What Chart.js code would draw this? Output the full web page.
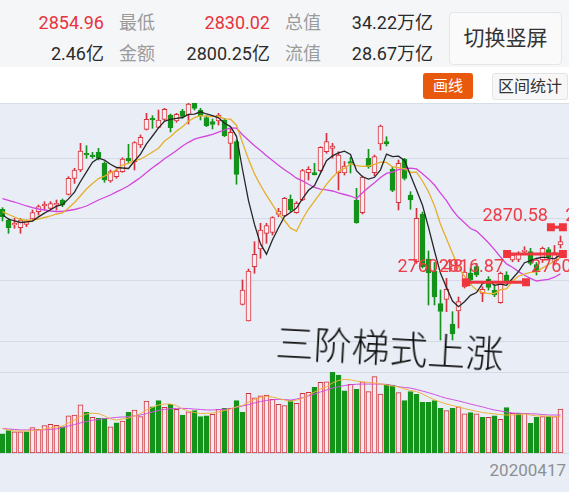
<!DOCTYPE html>
<html>
<head>
<meta charset="utf-8">
<script src="https://cdn.jsdelivr.net/npm/chart.js@4.4.0/dist/chart.umd.min.js"></script>
<style>
  body { margin: 0; width: 587px; height: 503px; background: #fff; position: relative; overflow: hidden;
         font-family: Roboto, "Noto Sans CJK SC", sans-serif; }
  .abs { position: absolute; white-space: nowrap; }
  #strip { left: 0; top: 0; width: 569px; height: 67px; background: #f5f6f8; }
  .row1 { top: 12px; font-size: 18px; line-height: 21px; }
  .row2 { top: 43px; font-size: 18px; line-height: 21px; }
  .red { color: #e8333c; }
  .blk { color: #2b2b2b; }
  .gry { color: #9b9b9b; }
  #switch { left: 449px; top: 12px; width: 111px; height: 51px; border: 1px solid #e6e6e6; border-radius: 4px;
            background: #fafafa; color: #333; font-size: 21px; line-height: 51px; text-align: center; }
  #draw { left: 423px; top: 73px; width: 50px; height: 26px; background: #e8590e; border-radius: 3px;
          color: #fff; font-size: 15px; line-height: 26px; text-align: center; }
  #range { left: 492px; top: 73px; width: 74px; height: 25px; background: #f7f7f7; border: 1px solid #e4e4e4;
           border-radius: 3px; color: #333; font-size: 16px; line-height: 25px; text-align: center; }
  #plotbg { left: 0; top: 103px; width: 569px; height: 389px; background: #e9eef6; border-top: 1px solid #d9dfe7; box-sizing: border-box; }
  .hline { left: 0; width: 569px; height: 1px; background: #d4dbe6; }
  #kline { left: 0; top: 103px; }
  #vol { left: 0; top: 372px; }
  #date { right: 21px; top: 460px; font-size: 17px; line-height: 20px; color: #8e8e93; }
  #note { left: 276px; top: 318px; font-size: 38px; line-height: 44px; color: #111; font-weight: 300;
          font-family: "Noto Sans CJK SC", sans-serif; transform: rotate(3deg); transform-origin: left center; }
</style>
</head>
<body>
<div id="strip" class="abs"></div>
<span class="abs row1 red" style="right:483px">2854.96</span>
<span class="abs row1 gry" style="left:119px">最低</span>
<span class="abs row1 red" style="right:317px">2830.02</span>
<span class="abs row1 gry" style="left:285px">总值</span>
<span class="abs row1 blk" style="right:154px">34.22万亿</span>
<span class="abs row2 blk" style="right:483px">2.46亿</span>
<span class="abs row2 gry" style="left:119px">金额</span>
<span class="abs row2 blk" style="right:317px">2800.25亿</span>
<span class="abs row2 gry" style="left:285px">流值</span>
<span class="abs row2 blk" style="right:154px">28.67万亿</span>
<div id="switch" class="abs">切换竖屏</div>
<div id="draw" class="abs">画线</div>
<div id="range" class="abs">区间统计</div>
<div id="plotbg" class="abs"></div>
<div class="abs hline" style="top:372px"></div>
<div class="abs hline" style="top:453px"></div>
<canvas id="kline" class="abs" width="569" height="269"></canvas>
<canvas id="vol" class="abs" width="569" height="81"></canvas>
<div id="date" class="abs">20200417</div>
<div id="note" class="abs">三阶梯式上涨</div>
<script>
// daily candles, oldest first (SSE composite)
var openP = [2906.4,2885,2875,2869.6,2876.4,2887,2901.6,2913.6,2908.4,2915,
  2925,2936.4,2968.4,2985,3018.4,3015,3020.4,2998.4,2963,2971.6,
  2981.6,3008.4,3001.6,3035,3066.4,3088.4,3070.4,3086.4,3095,3083,
  3103,3095,3125,3105,3089.6,3081.6,3083,3085,3038.4,3041.6,
  2716.4,2683,2791.6,2827,2858.4,2860.4,2896.4,2893,2926.4,2899.6,
  2925,2979.6,2979.6,2983.6,3021.6,3028.4,2979.6,2979,3001.6,2925,
  2899.6,3008.4,2979.6,3037,3041.6,2986.4,2919.6,3006.4,2935,2801.6,
  2897,2807,2783,2718,2726.4,2677,2703,2751,2779,2791.6,
  2738.4,2766.4,2745,2719.6,2775,2805,2806.4,2821.6,2821.6,2796,
  2805,2826,2800,2835];
var highP = [2909.6,2888.4,2888.4,2888.4,2885,2905,2915,2921.6,2921.6,2925,
  2927,2971.6,2988.4,3038.4,3033.6,3020.4,3028.4,3001.6,2985,2987,
  3009.6,3036.4,3041.6,3055,3098.4,3093.6,3105,3108.4,3097,3098.4,
  3106.4,3118.4,3128.4,3108.4,3093.6,3087,3098.4,3088.4,3068.4,3045,
  2765,2787,2841.6,2878.4,2878.4,2891.6,2908.4,2930.4,2935,2921.6,
  2986.4,2991.6,2998.4,3031.6,3058.4,3038.4,3021.6,3002,3010.4,2948.4,
  2973,3026.4,3015,3075,3051.6,2991,3005,3008.4,2941.6,2908.4,
  2901,2823,2800,2745,2768.4,2701.6,2731,2785,2789,2798.4,
  2751.6,2771.6,2755,2781,2781.6,2818.4,2821.6,2831.6,2828.4,2800,
  2831,2830,2834,2853];
var lowP = [2883,2858.4,2868.4,2858.4,2871.6,2883,2895,2905,2905,2905,
  2911.6,2935,2958.4,2981.6,3008.4,3008.4,3005,2960.4,2960.4,2968.4,
  2980.4,3000,2985,3030,3065,3068.4,3069,3082.4,3061,3080.4,
  3088.4,3077,3105,3085,3071.6,3067,3075,3051.6,3007,2956.4,
  2715,2683,2778.4,2808.4,2838.4,2855,2891.6,2891.6,2901.6,2898.4,
  2923.6,2965,2975,2981,3018.4,3008.4,2945,2975,2979,2878.4,
  2897,2988.4,2973,3025,3033,2941.6,2905,2965,2906.4,2798.4,
  2789,2715,2715,2645,2701.6,2645,2669,2749,2755,2771.6,
  2721.6,2745,2731.6,2718.4,2758.4,2801.6,2801.6,2818.4,2795,2775,
  2800,2806,2798,2829];
var closeP = [2891.6,2869.6,2878.4,2885,2881.6,2899.6,2911.6,2916.4,2917.6,2918.4,
  2915,2968.4,2985,3023,3015,3011.6,3008.4,2965,2981.6,2983,
  3007,3003.6,3039.6,3050.4,3086.4,3085,3085,3106.4,3069.6,3096.4,
  3092.4,3116.6,3108.4,3093.6,3073.6,3076.4,3095,3053.6,3060.4,2976.4,
  2745,2783,2816.4,2865,2873.6,2889.6,2903,2928.4,2905,2918.4,
  2983.6,2986.4,2975.6,3030.4,3041.6,3033,3015,2993,2998.4,2879.6,
  2971,2991.6,3011.6,3073,3037,2944.4,2998.4,2968.4,2925,2888.4,
  2791.6,2779,2731,2702,2746.4,2657,2721.6,2781,2765,2775,
  2746.4,2750.4,2735,2778.4,2761.6,2815,2818.4,2825,2798.4,2783,
  2828.4,2811,2820,2841.6];

// moving average lines as drawn
var ma5 = [2895,2887,2883,2880,2881.2,2882.8,2891.2,2898.8,2905.4,2912.8,
  2915.8,2927.2,2940.8,2962,2981.2,3000.6,3008.6,3004.6,2996.4,2990,
  2989,2988,3003,3016.8,3037.4,3053,3069.2,3082.6,3086.4,3088.4,
  3090,3096.2,3096.6,3101.4,3097,3093.8,3089.4,3078.4,3071.8,3052.4,
  2986,2923.6,2876.2,2837.2,2816.6,2845.6,2869.6,2892,2900,2908.8,
  2927.6,2944.4,2953.8,2978.8,3003.6,3013.4,3019.2,3022.6,3016.2,2983.8,
  2971.4,2966.8,2970.4,2985.4,3016.8,3011.6,3012.8,3004.2,2974.6,2945,
  2914.4,2870.4,2823,2778.4,2750,2723,2711.6,2721.6,2734.2,2740,
  2757.8,2763.6,2754.4,2757,2754.4,2768,2781.6,2799.6,2803.6,2808,
  2810.6,2809.2,2807.2,2815.8];
var ma10 = [2901.6,2896,2891,2886,2884,2885,2887,2890,2893,2897,
  2899.2,2909.2,2919.8,2933.6,2947,2958.2,2967.8,2972.6,2979.2,2985.6,
  2994.8,2998.2,3003.8,3006.6,3013.6,3021,3028.6,3042.8,3051.6,3062.8,
  3071.4,3082.6,3089.6,3093.8,3092.6,3091.8,3092.8,3087.4,3086.6,3074.6,
  3039.8,3006.4,2977.2,2954.4,2934.4,2915.8,2896.6,2884,2868.6,2862.6,
  2886.6,2907,2922.8,2939.4,2956.2,2970.4,2981.8,2988.2,2997.4,2993.6,
  2992.4,2993,2996.4,3000.8,3000.2,2991.4,2989.8,2987.2,2980,2980.8,
  2963,2941.6,2913.6,2876.4,2847.4,2818.6,2791,2772.2,2756.2,2745,
  2740.4,2737.6,2738,2745.6,2747.2,2762.8,2772.6,2777,2780.2,2781.2,
  2789.2,2795.4,2803.4,2809.6];
var ma20 = [2927.6,2924.4,2921,2917,2913,2909.6,2907,2905,2903,2902,
  2902,2904,2906,2909,2913,2919,2925,2930,2935,2941.2,
  2947,2953.6,2961.8,2970,2980.2,2989.6,2998.2,3007.6,3015.4,3024.2,
  3033,3040.4,3046.6,3050.2,3053,3056.4,3060.6,3065,3069,3068.6,
  3055.6,3044.4,3033.4,3024,3013.4,3003.8,2994.6,2985.6,2977.6,2968.6,
  2963.2,2956.6,2950,2946.8,2945.2,2943,2939.2,2936,2933,2928,
  2939.4,2950,2959.6,2970,2978.2,2980.8,2985.8,2987.6,2988.6,2987.2,
  2977.6,2967.2,2955,2938.6,2923.8,2905,2890.4,2879.6,2868,2862.8,
  2851.6,2839.6,2825.8,2811,2797.2,2790.6,2781.8,2774.6,2768.2,2763,
  2764.8,2766.4,2770.6,2777.6];

// volume in 亿手, plus whether the day closed up
var vol = [1.06,1.24,1.18,1.18,1.18,1.41,1.32,1.52,1.59,1.54,
  1.46,2.07,2.11,2.67,2.26,1.98,1.93,1.93,1.46,1.68,
  1.78,2.26,2.39,2.02,2.89,2.57,2.91,2.54,2.71,2.43,
  2.11,2.29,2.35,2.02,2.06,2.15,2.43,2.48,2.48,2.91,
  2.26,3.32,3.07,3.17,3.22,2.98,2.71,2.63,2.91,2.76,
  3.32,3.37,3.65,3.93,3.96,4.48,4.33,3.46,3.82,3.54,
  3.96,3.41,4.24,3.28,3.82,3.78,3.35,2.91,3.41,3.26,
  2.82,2.82,2.91,2.48,2.35,2.48,2.57,2.17,2.24,2.17,
  1.98,1.98,2.06,1.87,2.52,2.21,2.21,2.21,1.65,1.98,
  2.02,2.02,2.02,2.44];
var volUp = [0,0,1,1,0,1,1,1,1,1,
  0,1,1,1,0,1,0,0,1,0,
  1,0,1,1,1,0,0,1,0,1,
  0,1,0,0,0,1,1,0,1,0,
  0,1,1,1,1,1,1,1,0,1,
  1,1,0,1,1,0,0,0,1,0,
  1,1,1,1,0,0,1,0,0,0,
  0,0,0,0,1,0,1,1,0,1,
  0,1,0,1,0,1,0,1,0,0,
  1,0,1,1];
var volMa5 = [1.36,1.28,1.22,1.22,1.22,1.25,1.28,1.33,1.39,1.44,
  1.50,1.67,1.83,2.03,2.17,2.21,2.19,2.06,1.89,1.83,
  1.89,1.94,2.06,2.19,2.39,2.53,2.67,2.72,2.72,2.64,
  2.44,2.33,2.25,2.19,2.21,2.22,2.28,2.36,2.44,2.57,
  2.64,2.83,2.97,3.08,3.14,3.11,3.03,2.94,2.86,2.94,
  3.04,3.22,3.39,3.56,3.68,3.89,4.03,4.09,4.06,4.00,
  3.94,3.92,3.89,3.83,3.78,3.72,3.67,3.56,3.47,3.41,
  3.28,3.11,2.96,2.83,2.72,2.64,2.56,2.47,2.39,2.32,
  2.25,2.21,2.17,2.14,2.11,2.11,2.14,2.17,2.11,2.06,
  2.06,2.04,2.02,2.02];
var volMa10 = [1.37,1.33,1.31,1.28,1.28,1.28,1.28,1.29,1.31,1.34,
  1.42,1.50,1.58,1.67,1.75,1.82,1.86,1.91,1.94,1.98,
  2.00,2.02,2.06,2.11,2.19,2.28,2.36,2.42,2.46,2.48,
  2.48,2.47,2.44,2.42,2.39,2.39,2.41,2.43,2.47,2.53,
  2.61,2.69,2.78,2.86,2.92,2.96,2.98,2.97,2.94,3.00,
  3.07,3.17,3.28,3.39,3.50,3.61,3.68,3.75,3.79,3.82,
  3.83,3.83,3.83,3.83,3.81,3.75,3.68,3.64,3.61,3.53,
  3.44,3.35,3.25,3.14,3.04,2.97,2.89,2.81,2.72,2.64,
  2.56,2.47,2.39,2.33,2.28,2.22,2.21,2.19,2.18,2.17,
  2.14,2.11,2.11,2.11];

// price lines drawn with the 画线 tool (level, start and end in candle index units)
var lineLevels = [2760.48, 2816.87, 2870.58, 2760.48, 2870.58];
var lineFrom = [77.25, 84.1, 91.4, 99.5, 105.2];
var lineTo = [87.25, 93.4, 93.4, 105, 110];
var lineLabels = ['2760.48', '2816.87', '2870.58', '2760.48', '2870.58'];

var RED = '#d6323d';
var GREEN = '#14931b';
var idx = openP.map(function (v, i) { return i; });

function pts(arr) {
  return arr.map(function (v, i) { return { x: i, y: v }; });
}

function xAxis() {
  return { type: 'linear', min: -0.4167, max: 94.4167, offset: false, display: false, grid: { offset: false } };
}

// label offsets of the drawn lines, above or below the segment
var labelShift = [-15, 13, -11, -15, -11];
var lineLabelPlugin = {
  id: 'lineLabels',
  afterDatasetsDraw: function (chart) {
    var ctx = chart.ctx;
    var xs = chart.scales.x, ys = chart.scales.y;
    ctx.save();
    ctx.font = '18px Roboto, sans-serif';
    ctx.fillStyle = '#ef3b45';
    ctx.textAlign = 'right';
    ctx.textBaseline = 'middle';
    lineLevels.forEach(function (lv, k) {
      ctx.fillText(lineLabels[k], xs.getPixelForValue(lineFrom[k]) - 3, ys.getPixelForValue(lv) + labelShift[k]);
    });
    ctx.restore();
  }
};

var kDatasets = lineLevels.map(function (lv, k) {
  return {
    type: 'line',
    data: [{ x: lineFrom[k], y: lv }, { x: lineTo[k], y: lv }],
    borderColor: '#f0353f',
    backgroundColor: '#f0353f',
    borderWidth: 3,
    pointStyle: 'rect',
    pointRadius: 3.5,
    order: 0
  };
});

kDatasets.push(
  { type: 'line', label: 'MA5', data: pts(ma5), borderColor: '#262626', borderWidth: 1.3, pointRadius: 0, order: 1 },
  { type: 'line', label: 'MA10', data: pts(ma10), borderColor: '#e5ae2b', borderWidth: 1.3, pointRadius: 0, order: 1 },
  { type: 'line', label: 'MA20', data: pts(ma20), borderColor: '#d445de', borderWidth: 1.3, pointRadius: 0, order: 1 },
  {
    label: 'body',
    data: idx.map(function (i) { return { x: i, y: [openP[i], closeP[i]] }; }),
    backgroundColor: idx.map(function (i) { return closeP[i] >= openP[i] ? '#f7eef2' : GREEN; }),
    borderColor: idx.map(function (i) { return closeP[i] >= openP[i] ? RED : GREEN; }),
    borderWidth: 1,
    borderSkipped: false,
    barThickness: 5,
    grouped: false,
    order: 2
  },
  {
    label: 'wick',
    data: idx.map(function (i) { return { x: i, y: [lowP[i], highP[i]] }; }),
    backgroundColor: idx.map(function (i) { return closeP[i] >= openP[i] ? RED : GREEN; }),
    barThickness: 1,
    grouped: false,
    order: 3
  }
);

new Chart(document.getElementById('kline'), {
  type: 'bar',
  data: { datasets: kDatasets },
  options: {
    responsive: false,
    animation: false,
    layout: { padding: 0, autoPadding: false },
    plugins: { legend: { display: false }, tooltip: { enabled: false } },
    scales: {
      x: xAxis(),
      y: {
        min: 2581,
        max: 3119,
        afterBuildTicks: function (axis) {
          axis.ticks = [2643, 2765, 2887, 3009].map(function (v) { return { value: v }; });
        },
        afterFit: function (axis) { axis.width = 0; },
        ticks: { display: false },
        border: { display: false },
        grid: { color: '#d4dbe6', drawTicks: false }
      }
    }
  },
  plugins: [lineLabelPlugin]
});

new Chart(document.getElementById('vol'), {
  type: 'bar',
  data: {
    datasets: [
      { type: 'line', label: 'VMA5', data: pts(volMa5), borderColor: '#efb23a', borderWidth: 1, pointRadius: 0, order: 0 },
      { type: 'line', label: 'VMA10', data: pts(volMa10), borderColor: '#d24fe3', borderWidth: 1, pointRadius: 0, order: 0 },
      {
        label: 'volume',
        data: pts(vol),
        backgroundColor: volUp.map(function (u) { return u ? '#fbe8ee' : GREEN; }),
        borderColor: volUp.map(function (u) { return u ? '#c9333d' : GREEN; }),
        borderWidth: 1,
        borderSkipped: false,
        barThickness: 5,
        order: 1
      }
    ]
  },
  options: {
    responsive: false,
    animation: false,
    layout: { padding: 0, autoPadding: false },
    plugins: { legend: { display: false }, tooltip: { enabled: false } },
    scales: {
      x: xAxis(),
      y: { min: 0, max: 4.5, display: false }
    }
  }
});
</script>
</body>
</html>
